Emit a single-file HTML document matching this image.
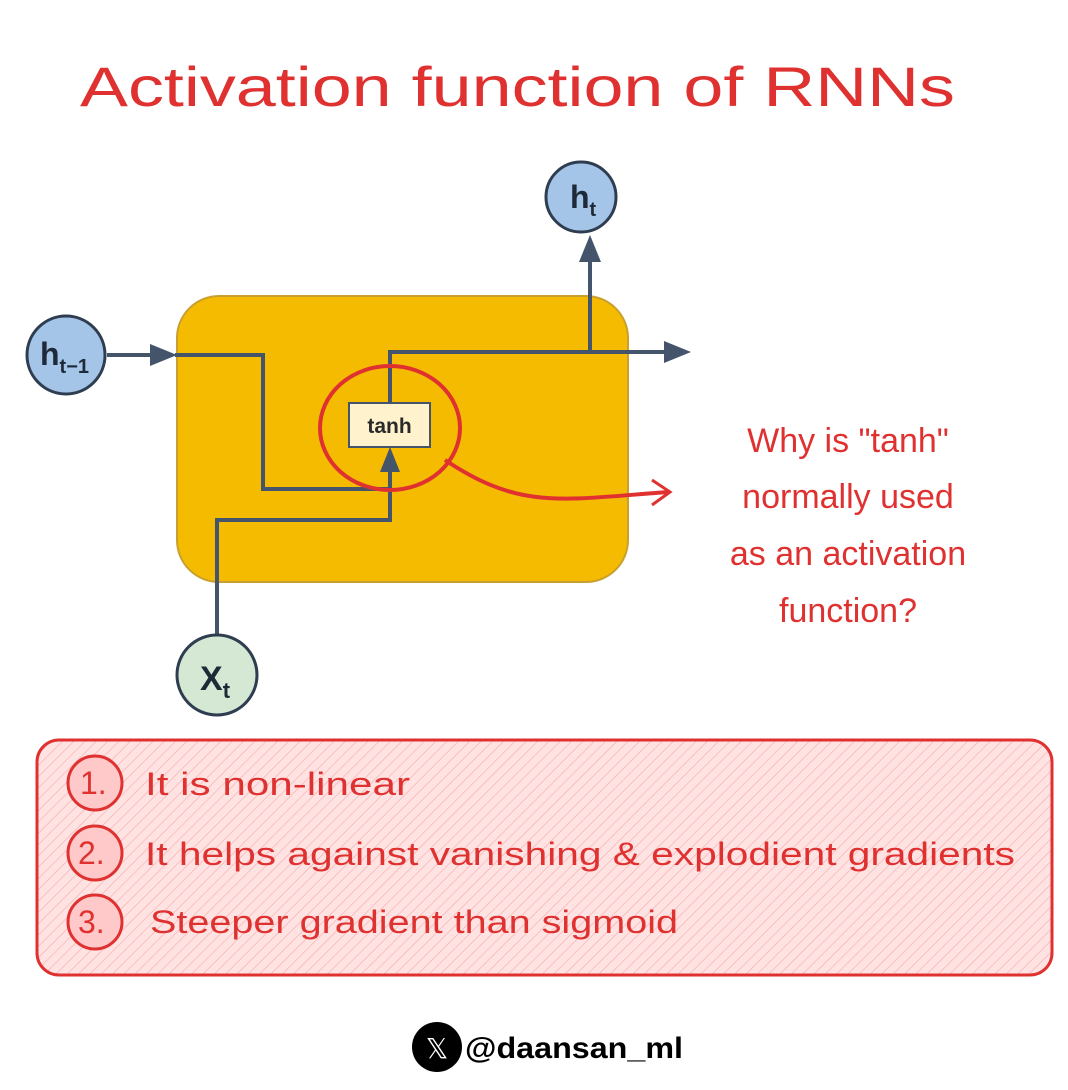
<!DOCTYPE html>
<html><head><meta charset="utf-8"><style>
html,body{margin:0;padding:0;background:#fff;width:1068px;height:1090px;overflow:hidden}
</style></head><body>
<svg width="1068" height="1090" viewBox="0 0 1068 1090" xmlns="http://www.w3.org/2000/svg">
<defs>
<pattern id="hatch" width="8" height="8" patternUnits="userSpaceOnUse" patternTransform="rotate(45)">
<rect width="8" height="8" fill="#ffe3e3"/><line x1="0" y1="0" x2="0" y2="8" stroke="#f7a8a8" stroke-width="1.2"/>
</pattern>
</defs>
<text x="80" y="106" font-family="Liberation Sans, sans-serif" font-size="56" fill="#e03131" textLength="875" lengthAdjust="spacingAndGlyphs">Activation function of RNNs</text>
<rect x="177" y="296" width="451" height="286" rx="42" fill="#f5bb00" stroke="#c9a030" stroke-width="2"/>
<g stroke="#44546a" stroke-width="4" fill="none">
<line x1="107" y1="355" x2="160" y2="355"/>
<polyline points="175,355 263,355 263,489 390,489"/>
<polyline points="217,636 217,520 390,520 390,465"/>
<polyline points="390,403 390,352 672,352"/>
<line x1="590" y1="352" x2="590" y2="255"/>
</g>
<g fill="#44546a">
<polygon points="150,344 177,355 150,366"/>
<polygon points="664,341 691,352 664,363"/>
<polygon points="579,262 590,235 601,262"/>
<polygon points="380,472 390,447 400,472"/>
</g>
<rect x="349" y="403" width="81" height="44" fill="#fff2cc" stroke="#44546a" stroke-width="2"/>
<text x="389.5" y="433" text-anchor="middle" font-family="Liberation Sans, sans-serif" font-size="21" font-weight="bold" fill="#2a2a2a">tanh</text>
<circle cx="66" cy="355" r="39" fill="#a4c4e8" stroke="#2f3d50" stroke-width="3"/>
<text x="40" y="365" font-family="Liberation Sans, sans-serif" font-weight="bold" font-size="32" fill="#1e2a38">h<tspan font-size="20" dy="8">t−1</tspan></text>
<circle cx="581" cy="197" r="35" fill="#a4c4e8" stroke="#2f3d50" stroke-width="3"/>
<text x="570" y="208" font-family="Liberation Sans, sans-serif" font-weight="bold" font-size="32" fill="#1e2a38">h<tspan font-size="20" dy="8">t</tspan></text>
<ellipse cx="217" cy="675" rx="40" ry="40" fill="#d5e8d4" stroke="#2f3d50" stroke-width="3"/>
<text x="200" y="690" font-family="Liberation Sans, sans-serif" font-weight="bold" font-size="34" fill="#1e2a38">X<tspan font-size="22" dy="8">t</tspan></text>
<ellipse cx="390" cy="428" rx="70" ry="62" fill="none" stroke="#e03131" stroke-width="4"/>
<path d="M445 460 C 520 510, 560 500, 668 492" fill="none" stroke="#e03131" stroke-width="4"/>
<path d="M652 480 L670 492 L652 505" fill="none" stroke="#e03131" stroke-width="3"/>
<g font-family="Liberation Sans, sans-serif" font-size="34" fill="#e03131" text-anchor="middle">
<text x="848" y="452">Why is "tanh"</text>
<text x="848" y="508">normally used</text>
<text x="848" y="565">as an activation</text>
<text x="848" y="622">function?</text>
</g>
<rect x="37" y="740" width="1015" height="235" rx="22" fill="url(#hatch)" stroke="#e03131" stroke-width="3"/>
<g fill="#ffc9c9" stroke="#e03131" stroke-width="3">
<circle cx="95" cy="783" r="27"/><circle cx="95" cy="853" r="27"/><circle cx="95" cy="922" r="27"/>
</g>
<g font-family="Liberation Sans, sans-serif" font-size="32" fill="#e03131">
<text x="80" y="794">1.</text><text x="78" y="864">2.</text><text x="78" y="933">3.</text>
<text x="145" y="795" textLength="265" lengthAdjust="spacingAndGlyphs">It is non-linear</text>
<text x="145" y="865" textLength="870" lengthAdjust="spacingAndGlyphs">It helps against vanishing &amp; explodient gradients</text>
<text x="150" y="933" textLength="528" lengthAdjust="spacingAndGlyphs">Steeper gradient than sigmoid</text>
</g>
<circle cx="437" cy="1047" r="25" fill="#000"/>
<text x="437" y="1058" text-anchor="middle" font-family="DejaVu Sans, sans-serif" font-size="28" fill="#fff">𝕏</text>
<text x="465" y="1058" font-family="Liberation Sans, sans-serif" font-weight="bold" font-size="30" fill="#000" textLength="218" lengthAdjust="spacingAndGlyphs">@daansan_ml</text>
</svg>
</body></html>
